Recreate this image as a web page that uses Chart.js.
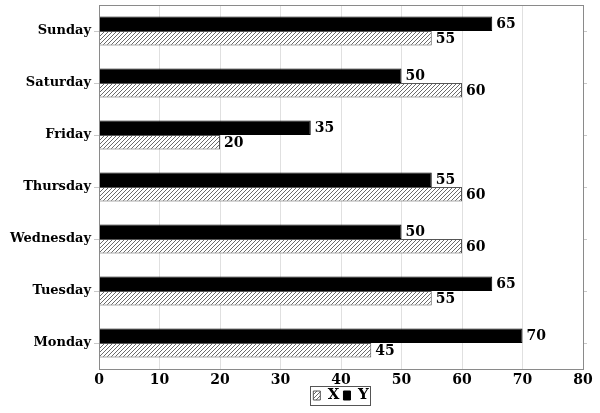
<!DOCTYPE html>
<html>
<head>
<meta charset="utf-8">
<script src="https://cdn.jsdelivr.net/npm/chart.js@4"></script>
<style>
html,body{margin:0;padding:0;background:#fff;}
#wrap{width:600px;height:413px;}
</style>
</head>
<body>
<div id="wrap"><canvas id="c" width="600" height="413"></canvas></div>
<script>
const categories = ["Sunday","Saturday","Friday","Thursday","Wednesday","Tuesday","Monday"];
const seriesX = [55, 60, 20, 60, 60, 55, 45];
const seriesY = [65, 50, 35, 55, 50, 65, 70];
const xTicks = [0,10,20,30,40,50,60,70,80];

const FONT = "'DejaVu Serif', serif";

function hatch(){
  const s = 4;
  const cv = document.createElement('canvas');
  cv.width = s; cv.height = s;
  const g = cv.getContext('2d');
  g.fillStyle = '#fff'; g.fillRect(0,0,s,s);
  g.strokeStyle = '#6a6a6a'; g.lineWidth = 1;
  g.beginPath();
  g.moveTo(0,s); g.lineTo(s,0);
  g.moveTo(-1,1); g.lineTo(1,-1);
  g.moveTo(s-1,s+1); g.lineTo(s+1,s-1);
  g.stroke();
  return g.createPattern(cv,'repeat');
}
const hatchPat = hatch();

const frame = {
  id:'frame',
  afterDraw(chart){
    const a = chart.chartArea, ctx = chart.ctx;
    ctx.save();
    ctx.strokeStyle = '#8a8a8a'; ctx.lineWidth = 1;
    ctx.strokeRect(Math.round(a.left)+0.5, Math.round(a.top)+0.5, Math.round(a.right-a.left), Math.round(a.bottom-a.top));
    const lg = chart.legend;
    if (lg && lg.legendHitBoxes && lg.legendHitBoxes.length){
      let l=1e9,r=-1e9,t=1e9,b=-1e9;
      lg.legendHitBoxes.forEach(h=>{l=Math.min(l,h.left);r=Math.max(r,h.left+h.width);t=Math.min(t,h.top);b=Math.max(b,h.top+h.height);});
      ctx.strokeStyle='#555';
      ctx.strokeRect(Math.round(l-3)+0.5, Math.round(t-2)+0.5, Math.round(r-l+5), Math.round(b-t+4));
    }
    ctx.restore();
  }
};

const valueLabels = {
  id:'valueLabels',
  afterDatasetsDraw(chart){
    const ctx = chart.ctx;
    ctx.save();
    ctx.font = "bold 14px " + FONT;
    ctx.fillStyle = '#000';
    ctx.textAlign = 'left';
    ctx.textBaseline = 'middle';
    chart.data.datasets.forEach((ds,i)=>{
      const meta = chart.getDatasetMeta(i);
      meta.data.forEach((el,j)=>{
        ctx.fillText(String(ds.data[j]), el.x + 4, el.y + 1);
      });
    });
    ctx.restore();
  }
};

new Chart(document.getElementById('c'), {
  type:'bar',
  data:{
    labels: categories,
    datasets:[
      {label:'Y', data: seriesY, backgroundColor:'#000', borderColor:'#000', borderWidth:1, categoryPercentage:0.56, barPercentage:1},
      {label:'X', data: seriesX, backgroundColor: hatchPat, borderColor:'#555', borderWidth:1, categoryPercentage:0.56, barPercentage:1}
    ]
  },
  options:{
    indexAxis:'y',
    responsive:false,
    animation:false,
    devicePixelRatio:1,
    layout:{padding:{left:0,right:13,top:5,bottom:0}},
    scales:{
      x:{
        min:0,max:80,
        afterBuildTicks(scale){ scale.ticks = xTicks.map(v=>({value:v})); },
        afterFit(scale){ scale.height = 15; scale.paddingLeft = 0; scale.paddingRight = 0; },
        grid:{color:'#e0e0e0', drawTicks:false},
        border:{display:false},
        ticks:{font:{family:FONT,size:14,weight:'bold'},color:'#000',padding:3},
      },
      y:{
        afterFit(scale){ scale.width = 99; scale.paddingTop = 0; scale.paddingBottom = 0; },
        grid:{drawOnChartArea:false, offset:false, color:'#c8c8c8', tickLength:5},
        border:{display:false},
        ticks:{font:{family:FONT,size:13,weight:'bold'},color:'#000',padding:3}
      },
      y2:{
        type:'category',
        labels: categories,
        position:'right',
        afterFit(scale){ scale.paddingTop = 0; scale.paddingBottom = 0; },
        grid:{drawOnChartArea:false, offset:false, color:'#c8c8c8', tickLength:4},
        border:{display:false},
        ticks:{display:false}
      }
    },
    plugins:{
      legend:{
        position:'bottom',
        fullSize:false,
        reverse:true,
        labels:{
          boxWidth:7, boxHeight:9,
          padding:4,
          color:'#000',
          font:{family:FONT,size:15,weight:'bold'}
        }
      },
      tooltip:{enabled:false}
    }
  },
  plugins:[frame, valueLabels]
});
</script>
</body>
</html>
